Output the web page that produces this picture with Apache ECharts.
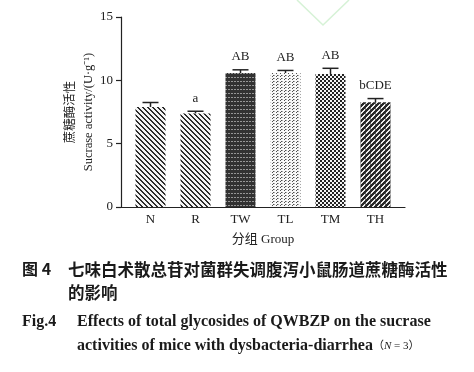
<!DOCTYPE html>
<html>
<head>
<meta charset="utf-8">
<script src="https://cdn.jsdelivr.net/npm/echarts@6/dist/echarts.min.js"></script>
<style>html,body{margin:0;padding:0;background:#fff;}#c{width:474px;height:372px;}</style>
</head>
<body>
<div id="c"></div>
<script>
// ---- data ----
const categories = ['N', 'R', 'TW', 'TL', 'TM', 'TH'];
const meanValues = [7.9, 7.39, 10.58, 10.58, 10.5, 8.26];
const sdValues = [0.35, 0.17, 0.25, 0.2, 0.45, 0.3];
const sigLabels = ['', 'a', 'AB', 'AB', 'AB', 'bCDE'];
const yTicks = [0, 5, 10, 15];

// ---- patterns (style only) ----
function makeTile(w, h, fn) {
  const c = document.createElement('canvas');
  c.width = w; c.height = h;
  const ctx = c.getContext('2d');
  const img = ctx.createImageData(w, h);
  for (let y = 0; y < h; y++) for (let x = 0; x < w; x++) {
    const v = fn(x, y);
    const i = (y * w + x) * 4;
    img.data[i] = v; img.data[i + 1] = v; img.data[i + 2] = v; img.data[i + 3] = 255;
  }
  ctx.putImageData(img, 0, 0);
  return c;
}
const patStripe = makeTile(5, 5, (x, y) => (((x - y) % 5 + 5) % 5) < 2 ? 45 : 245);
const patTW = makeTile(6, 4, (x, y) => (y % 4 === 1 && (x % 3) !== 2) ? 150 : 50);
const patTL = makeTile(4, 3, (x, y) => {
  if ((x === 1 && y === 0) || (x === 0 && y === 1)) return 80;
  if (x === 2 && y === 0) return 170;
  return 248;
});
const patTM = makeTile(4, 4, (x, y) => ((Math.floor(x / 2) + Math.floor(y / 2)) % 2 === 0) ? 35 : 245);
const patTH = makeTile(5, 5, (x, y) => ((x + y) % 5 < 3) ? 40 : ((x % 5 === 0) ? 120 : 235));
const patterns = [patStripe, patStripe, patTW, patTL, patTM, patTH];

const serif = '"Liberation Serif", "Times New Roman", "Noto Sans CJK SC", serif';
const textColor = '#222';

const barData = meanValues.map((v, i) => ({
  value: v,
  itemStyle: { color: { image: patterns[i], repeat: 'repeat' } }
}));
const errData = meanValues.map((v, i) => [i, v, v + sdValues[i], sigLabels[i]]);

const chart = echarts.init(document.getElementById('c'), null, { renderer: 'canvas' });
chart.setOption({
  animation: false,
  backgroundColor: '#fff',
  grid: [
    { left: 121, right: 69, top: 17, bottom: 165 },
    { left: 128, right: 76, top: 17, bottom: 165 }
  ],
  xAxis: [
    { type: 'value', gridIndex: 0, min: 0, max: 1,
      axisLine: { show: true, lineStyle: { color: '#222', width: 1.2 } },
      axisTick: { show: false }, axisLabel: { show: false }, splitLine: { show: false } },
    { type: 'category', gridIndex: 1, data: categories,
      axisLine: { show: false }, axisTick: { show: false },
      axisLabel: { margin: 6, fontFamily: serif, fontSize: 13, color: textColor },
      name: '分组 Group', nameLocation: 'middle', nameGap: 26,
      nameTextStyle: { fontFamily: serif, fontSize: 13, color: textColor } }
  ],
  yAxis: [
    { type: 'value', gridIndex: 0, min: 0, max: 15, interval: 5,
      axisLine: { show: true, lineStyle: { color: '#222', width: 1.2 } },
      axisTick: { show: true, inside: false, length: 5, lineStyle: { color: '#222', width: 1.2 } },
      axisLabel: { margin: 8, fontFamily: serif, fontSize: 13, color: textColor,
        formatter: v => (yTicks.indexOf(v) >= 0 ? String(v) : '') },
      splitLine: { show: false },
      name: '蔗糖酶活性\nSucrase activity/(U·g⁻¹)', nameLocation: 'middle', nameRotate: 90, nameGap: 23,
      nameMoveOverlap: false,
      nameTextStyle: { fontFamily: serif, fontSize: 12.5, color: textColor, lineHeight: 18 } },
    { type: 'value', gridIndex: 1, min: 0, max: 15, interval: 5, show: false }
  ],
  series: [
    { type: 'bar', xAxisIndex: 1, yAxisIndex: 1, data: barData, barWidth: 30 },
    { type: 'custom', xAxisIndex: 1, yAxisIndex: 1, data: errData, z: 5,
      encode: { x: 0, y: 2 },
      renderItem: function (params, api) {
        const p0 = api.coord([api.value(0), api.value(1)]);
        const p1 = api.coord([api.value(0), api.value(2)]);
        const lbl = errData[params.dataIndex][3];
        const st = { stroke: '#222', lineWidth: 1.5 };
        const children = [
          { type: 'line', shape: { x1: p0[0], y1: p0[1], x2: p1[0], y2: p1[1] }, style: st },
          { type: 'line', shape: { x1: p1[0] - 8, y1: p1[1], x2: p1[0] + 8, y2: p1[1] }, style: st }
        ];
        if (lbl) children.push({ type: 'text', x: p1[0], y: p1[1] - 13,
          style: { text: lbl, fontFamily: serif, fontSize: 13, fill: textColor, align: 'center', verticalAlign: 'middle' } });
        return { type: 'group', children: children };
      } }
  ],
  graphic: [
    { type: 'polyline', silent: true, shape: { points: [[297, 0], [323, 25], [349, 0]] },
      style: { stroke: '#d6f2d6', lineWidth: 1.5, fill: null } },
    { type: 'text', left: 22, top: 261, style: { text: '图 4', fontFamily: '"Noto Sans CJK SC", sans-serif', fontWeight: 'bold', fontSize: 16, fill: '#1a1a1a' } },
    { type: 'text', left: 68, top: 261, style: { text: '七味白术散总苷对菌群失调腹泻小鼠肠道蔗糖酶活性', fontFamily: '"Noto Sans CJK SC", sans-serif', fontWeight: 'bold', fontSize: 16.5, fill: '#1a1a1a' } },
    { type: 'text', left: 68, top: 284, style: { text: '的影响', fontFamily: '"Noto Sans CJK SC", sans-serif', fontWeight: 'bold', fontSize: 16.5, fill: '#1a1a1a' } },
    { type: 'text', left: 22, top: 314, style: { text: 'Fig.4', fontFamily: serif, fontWeight: 'bold', fontSize: 16, fill: '#1a1a1a' } },
    { type: 'text', left: 77, top: 314, style: { text: 'Effects of total glycosides of QWBZP on the sucrase', fontFamily: serif, fontWeight: 'bold', fontSize: 16, fill: '#1a1a1a' } },
    { type: 'text', left: 77, top: 338, style: {
      text: '{b|activities of mice with dysbacteria-diarrhea}{p|（}{i|N}{p| = 3）}',
      rich: {
        b: { fontFamily: serif, fontWeight: 'bold', fontSize: 16, fill: '#1a1a1a' },
        p: { fontFamily: serif, fontSize: 11, fill: '#1a1a1a' },
        i: { fontFamily: serif, fontStyle: 'italic', fontSize: 11, fill: '#1a1a1a' }
      } } }
  ]
});
</script>
</body>
</html>
